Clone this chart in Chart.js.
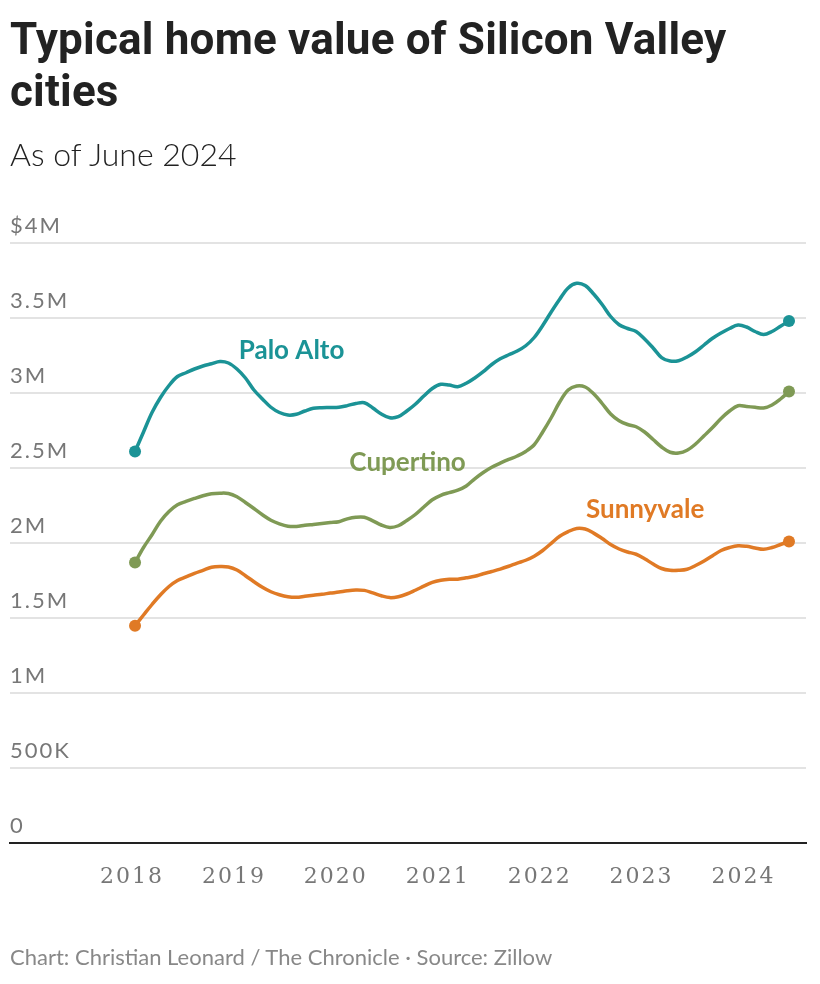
<!DOCTYPE html>
<html><head><meta charset="utf-8">
<script src="https://cdn.jsdelivr.net/npm/chart.js@4/dist/chart.umd.min.js"></script>
<style>
html,body{margin:0;padding:0;background:#fff;}
body{width:820px;height:984px;position:relative;overflow:hidden;}
#title{position:absolute;left:10px;top:13px;font:700 44px/52px Roboto,sans-serif;letter-spacing:0.2px;color:#222;margin:0;width:800px;z-index:2;}
#sub{position:absolute;left:10px;top:135px;font:300 32px/38px Lato,sans-serif;color:#222;z-index:2;}
#foot{position:absolute;left:10px;top:943px;font:400 22px/28px Lato,sans-serif;color:#888;z-index:2;}
#wrap{position:absolute;left:0;top:0;width:820px;height:984px;}
</style></head>
<body>
<h1 id="title">Typical home value of Silicon Valley<br>cities</h1>
<div id="sub">As of June 2024</div>
<div id="foot">Chart: Christian Leonard / The Chronicle · Source: Zillow</div>
<div id="wrap"><canvas id="c"></canvas></div>
<script>
// Monthly values, January 2018 through June 2024, in millions of dollars
const startYear = 2018;
const yearTicks = [2018, 2019, 2020, 2021, 2022, 2023, 2024];
const yTicks = [0, 0.5, 1, 1.5, 2, 2.5, 3, 3.5, 4];
const yTickLabels = ['0', '500K', '1M', '1.5M', '2M', '2.5M', '3M', '3.5M', '$4M'];

const paloAlto = [
  2.61, 2.74, 2.87, 2.97, 3.05, 3.11, 3.135, 3.16, 3.18, 3.195, 3.21, 3.20,
  3.16, 3.10, 3.02, 2.96, 2.905, 2.87, 2.853, 2.858, 2.88, 2.898, 2.902, 2.903,
  2.905, 2.916, 2.93, 2.935, 2.90, 2.86, 2.835, 2.842, 2.88, 2.925, 2.98, 3.03,
  3.058, 3.053, 3.042, 3.065, 3.10, 3.142, 3.19, 3.228, 3.255, 3.28, 3.315, 3.37,
  3.45, 3.54, 3.625, 3.70, 3.731, 3.716, 3.66, 3.59, 3.51, 3.455, 3.43, 3.41,
  3.36, 3.30, 3.236, 3.213, 3.215, 3.24, 3.275, 3.32, 3.365, 3.40, 3.43, 3.453,
  3.44, 3.41, 3.39, 3.41, 3.445, 3.48
];
const cupertino = [
  1.87, 1.97, 2.055, 2.145, 2.21, 2.255, 2.277, 2.297, 2.315, 2.328, 2.332, 2.33,
  2.308, 2.27, 2.23, 2.188, 2.152, 2.128, 2.112, 2.11, 2.118, 2.124, 2.13, 2.136,
  2.142, 2.161, 2.172, 2.172, 2.148, 2.12, 2.104, 2.115, 2.15, 2.19, 2.24, 2.288,
  2.318, 2.336, 2.352, 2.38, 2.428, 2.47, 2.505, 2.532, 2.557, 2.58, 2.61, 2.655,
  2.74, 2.835, 2.94, 3.02, 3.047, 3.04, 2.995, 2.93, 2.86, 2.815, 2.79, 2.775,
  2.74, 2.69, 2.64, 2.605, 2.60, 2.618, 2.66, 2.715, 2.77, 2.83, 2.88, 2.915,
  2.91, 2.905, 2.90, 2.92, 2.96, 3.01
];
const sunnyvale = [
  1.449, 1.52, 1.59, 1.655, 1.71, 1.75, 1.774, 1.798, 1.818, 1.838, 1.843, 1.84,
  1.82, 1.782, 1.742, 1.705, 1.675, 1.655, 1.642, 1.638, 1.645, 1.652, 1.658, 1.666,
  1.673, 1.682, 1.687, 1.684, 1.667, 1.648, 1.636, 1.642, 1.66, 1.685, 1.712, 1.738,
  1.752, 1.758, 1.759, 1.768, 1.778, 1.795, 1.81, 1.826, 1.845, 1.866, 1.885, 1.912,
  1.95, 1.998, 2.045, 2.076, 2.097, 2.093, 2.066, 2.03, 1.99, 1.96, 1.94, 1.925,
  1.895, 1.86, 1.83, 1.818, 1.818, 1.825, 1.85, 1.88, 1.915, 1.95, 1.97, 1.982,
  1.978, 1.967, 1.958, 1.97, 1.99, 2.01
];

const seriesNames = ['Palo Alto', 'Cupertino', 'Sunnyvale'];
const seriesColors = ['#1b9396', '#7f9a55', '#e07a25'];
const seriesValues = [paloAlto, cupertino, sunnyvale];
const labelAnchors = [[2019.536, 3.28], [2020.674, 2.533], [2023.005, 2.22]];

function toPoints(arr) {
  return arr.map((v, i) => ({ x: startYear + i / 12, y: v }));
}

const spacingPlugin = {
  id: 'tickSpacing',
  beforeDraw(chart) { chart.ctx.letterSpacing = '2px'; },
  afterDraw(chart) { chart.ctx.letterSpacing = '0px'; }
};

const seriesLabelPlugin = {
  id: 'seriesLabels',
  afterDatasetsDraw(chart) {
    const { ctx, scales } = chart;
    ctx.save();
    ctx.letterSpacing = '0px';
    ctx.font = '700 26px Lato, sans-serif';
    ctx.textAlign = 'center';
    ctx.textBaseline = 'middle';
    seriesNames.forEach((name, k) => {
      ctx.fillStyle = seriesColors[k];
      ctx.fillText(name, scales.x.getPixelForValue(labelAnchors[k][0]), scales.y.getPixelForValue(labelAnchors[k][1]));
    });
    ctx.restore();
  }
};

new Chart(document.getElementById('c'), {
  type: 'line',
  data: {
    datasets: seriesValues.map((vals, k) => ({
      label: seriesNames[k],
      data: toPoints(vals),
      borderColor: seriesColors[k],
      backgroundColor: seriesColors[k],
      borderWidth: 3.5,
      tension: 0.35,
      clip: false,
      pointRadius: ctx => (ctx.dataIndex === 0 || ctx.dataIndex === vals.length - 1) ? 6 : 0,
      pointHoverRadius: 0,
      pointBorderWidth: 0
    }))
  },
  options: {
    responsive: true,
    maintainAspectRatio: false,
    animation: false,
    events: [],
    layout: { padding: { top: 243, left: 10, right: 14, bottom: 81 } },
    plugins: { legend: { display: false }, tooltip: { enabled: false } },
    scales: {
      x: {
        type: 'linear',
        min: 2016.7733,
        max: 2024.5835,
        afterBuildTicks: s => { s.ticks = yearTicks.map(v => ({ value: v })); },
        afterFit: s => { s.height = 60; },
        grid: { display: false, drawTicks: false },
        border: { display: true, color: '#222', width: 2 },
        ticks: {
          color: '#777',
          font: { family: 'DejaVu Serif', size: 22 },
          padding: 21,
          labelOffset: -3,
          maxRotation: 0,
          autoSkip: false,
          callback: v => String(v)
        }
      },
      y: {
        min: 0,
        max: 4,
        afterBuildTicks: s => { s.ticks = yTicks.map(v => ({ value: v })); },
        afterFit: s => { s.width = 0; },
        border: { display: false },
        grid: {
          drawTicks: false,
          lineWidth: 2,
          color: ctx => (ctx.tick && ctx.tick.value === 0) ? 'rgba(0,0,0,0)' : '#e3e3e3'
        },
        ticks: {
          mirror: true,
          padding: 0,
          labelOffset: -17,
          color: '#777',
          font: { family: 'Lato', size: 22 },
          callback: v => yTickLabels[yTicks.indexOf(v)]
        }
      }
    }
  },
  plugins: [spacingPlugin, seriesLabelPlugin]
});
</script>
</body></html>
